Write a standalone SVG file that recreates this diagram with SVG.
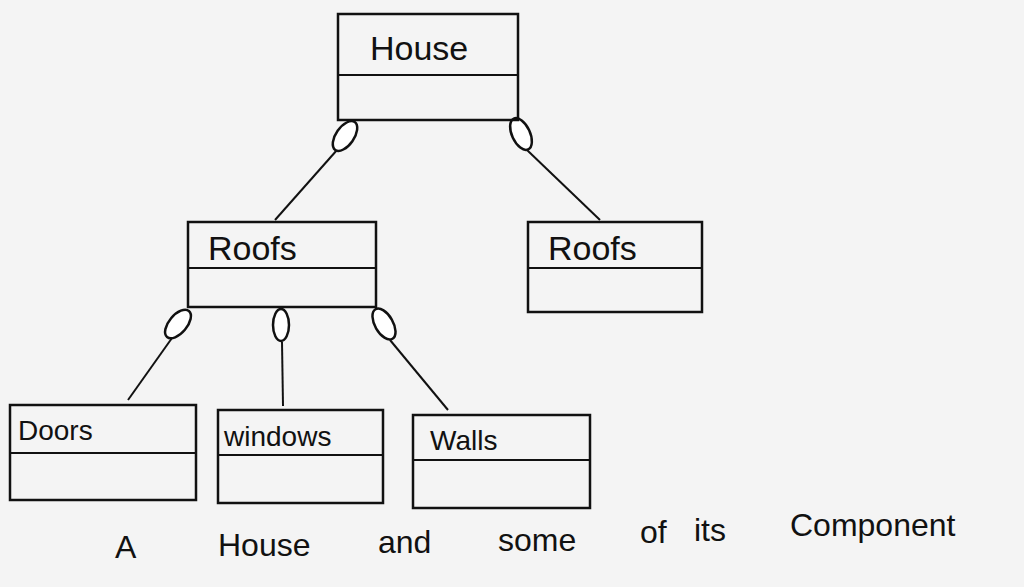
<svg xmlns="http://www.w3.org/2000/svg" width="1024" height="587" viewBox="0 0 1024 587">
<style>
.box{fill:none;stroke:#111;stroke-width:2.5}
.ln{fill:none;stroke:#111;stroke-width:2}
.dm{fill:#fff;stroke:#111;stroke-width:2.5}
text{font-family:"Liberation Sans",sans-serif;fill:#111}
.t{font-size:34px}
.s{font-size:28px}
.c{font-size:32px}
</style>
<rect width="1024" height="587" fill="#f4f4f4"/>
<g id="connectors">
<line class="ln" x1="337" y1="150" x2="275" y2="220"/>
<line class="ln" x1="527" y1="150" x2="600" y2="220"/>
<line class="ln" x1="172" y1="338" x2="128" y2="400"/>
<line class="ln" x1="282" y1="342" x2="283" y2="406"/>
<line class="ln" x1="390" y1="340" x2="448" y2="410"/>
<ellipse class="dm" cx="345" cy="136" rx="9" ry="17" transform="rotate(35 345 136)"/>
<ellipse class="dm" cx="521" cy="134" rx="9" ry="17" transform="rotate(-25 521 134)"/>
<ellipse class="dm" cx="178" cy="324" rx="9" ry="17" transform="rotate(40 178 324)"/>
<ellipse class="dm" cx="281" cy="325" rx="8" ry="16"/>
<ellipse class="dm" cx="384" cy="324" rx="9" ry="17" transform="rotate(-30 384 324)"/>
</g>
<g id="house"><rect class="box" x="338" y="14" width="180" height="106"/><line class="ln" x1="338" y1="75" x2="518" y2="75"/><text class="t" x="370" y="60">House</text></g>
<g id="roofs1"><rect class="box" x="188" y="222" width="188" height="85"/><line class="ln" x1="188" y1="268" x2="376" y2="268"/><text class="t" x="208" y="260">Roofs</text></g>
<g id="roofs2"><rect class="box" x="528" y="222" width="174" height="90"/><line class="ln" x1="528" y1="268" x2="702" y2="268"/><text class="t" x="548" y="260">Roofs</text></g>
<g id="doors"><rect class="box" x="10" y="405" width="186" height="95"/><line class="ln" x1="10" y1="453" x2="196" y2="453"/><text class="s" x="18" y="440">Doors</text></g>
<g id="windows"><rect class="box" x="218" y="410" width="165" height="93"/><line class="ln" x1="218" y1="455" x2="383" y2="455"/><text class="s" x="224" y="446">windows</text></g>
<g id="walls"><rect class="box" x="413" y="415" width="177" height="93"/><line class="ln" x1="413" y1="460" x2="590" y2="460"/><text class="s" x="430" y="450">Walls</text></g>
<text class="c" x="115" y="558">A</text>
<text class="c" x="218" y="556">House</text>
<text class="c" x="378" y="553">and</text>
<text class="c" x="498" y="551">some</text>
<text class="c" x="640" y="543">of</text>
<text class="c" x="694" y="541">its</text>
<text class="c" x="790" y="536">Component</text>
</svg>
